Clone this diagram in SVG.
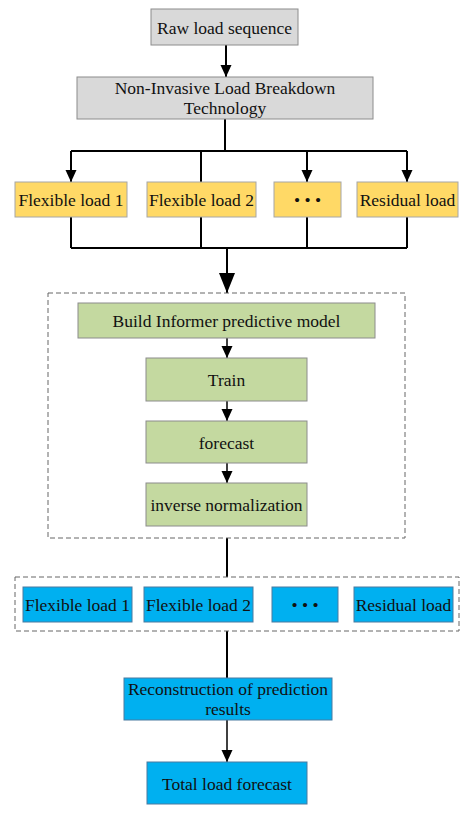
<svg xmlns="http://www.w3.org/2000/svg" width="474" height="818" viewBox="0 0 474 818">
<defs>
<style>
text{font-family:"Liberation Serif","Times New Roman",serif;font-size:17.5px;fill:#111;text-anchor:middle}
.gray{fill:#d9d9d9;stroke:#8c8c8c;stroke-width:1}
.yel{fill:#ffd966;stroke:#a6a6a6;stroke-width:1}
.grn{fill:#c4d9a0;stroke:#8c8c8c;stroke-width:1}
.blu{fill:#00b0f0;stroke:#4a7aa0;stroke-width:1}
.dash{fill:none;stroke:#666;stroke-width:1;stroke-dasharray:5,3}
.c{fill:none;stroke:#000;stroke-width:2}
.t{fill:none;stroke:#000;stroke-width:1.5}
</style>
<marker id="ah" markerUnits="userSpaceOnUse" viewBox="0 0 12 12" refX="12" refY="6" markerWidth="12" markerHeight="12" orient="auto"><path d="M0,0.5 L12,6 L0,11.5 Z" fill="#000"/></marker>
<marker id="ahb" markerUnits="userSpaceOnUse" viewBox="0 0 20 16" refX="20" refY="8" markerWidth="20" markerHeight="16" orient="auto"><path d="M0,0 L20,8 L0,16 Z" fill="#000"/></marker>
</defs>
<g id="connectors">
<path class="c" d="M226,45 V77" marker-end="url(#ah)"/>
<path class="c" d="M225,119 V151 M71,151 H407"/>
<path class="c" d="M71,151 V182" marker-end="url(#ah)"/>
<path class="c" d="M201,151 V182"/>
<path class="c" d="M307,151 V182" marker-end="url(#ah)"/>
<path class="c" d="M407,151 V182" marker-end="url(#ah)"/>
<path class="c" d="M71,217 V248 M201,217 V248 M307,217 V248 M407,217 V248 M71,248 H407"/>
<path class="c" d="M227,248 V293" marker-end="url(#ahb)"/>
<path class="t" d="M227,338 V358" marker-end="url(#ah)"/>
<path class="t" d="M227,401 V421" marker-end="url(#ah)"/>
<path class="t" d="M227,463 V483" marker-end="url(#ah)"/>
<path class="c" d="M227,538 V577"/>
<path class="c" d="M227,631 V678"/>
<path class="t" d="M227,720 V762" marker-end="url(#ah)"/>
</g>
<g id="raw"><rect class="gray" x="151" y="9" width="147" height="36"/><text x="224.5" y="33.5">Raw load sequence</text></g>
<g id="nilbt"><rect class="gray" x="77" y="77" width="296" height="42"/><text x="225" y="94">Non-Invasive Load Breakdown</text><text x="225" y="114">Technology</text></g>
<g id="y1"><rect class="yel" x="15" y="182" width="112" height="35"/><text x="71" y="206">Flexible load 1</text></g>
<g id="y2"><rect class="yel" x="147" y="182" width="109" height="35"/><text x="201.5" y="206">Flexible load 2</text></g>
<g id="y3"><rect class="yel" x="274" y="182" width="67" height="35"/><text x="307.5" y="206">• • •</text></g>
<g id="y4"><rect class="yel" x="357" y="182" width="101" height="35"/><text x="407.5" y="206">Residual load</text></g>
<g id="model-group"><rect class="dash" x="48" y="293" width="357" height="245"/></g>
<g id="build"><rect class="grn" x="78" y="303" width="297" height="35"/><text x="226.5" y="327">Build Informer predictive model</text></g>
<g id="train"><rect class="grn" x="146" y="358" width="161" height="43"/><text x="226.5" y="386">Train</text></g>
<g id="forecast"><rect class="grn" x="146" y="421" width="161" height="42"/><text x="226.5" y="449">forecast</text></g>
<g id="invnorm"><rect class="grn" x="146" y="483" width="161" height="43"/><text x="226.5" y="511">inverse normalization</text></g>
<g id="output-group"><rect class="dash" x="15" y="577" width="444" height="54"/></g>
<g id="b1"><rect class="blu" x="23" y="587" width="109" height="35"/><text x="77.5" y="611">Flexible load 1</text></g>
<g id="b2"><rect class="blu" x="144" y="587" width="109" height="35"/><text x="198.5" y="611">Flexible load 2</text></g>
<g id="b3"><rect class="blu" x="272" y="587" width="66" height="35"/><text x="305" y="611">• • •</text></g>
<g id="b4"><rect class="blu" x="354" y="587" width="99" height="35"/><text x="403.5" y="611">Residual load</text></g>
<g id="recon"><rect class="blu" x="124" y="678" width="208" height="42"/><text x="228" y="695">Reconstruction of prediction</text><text x="228" y="715">results</text></g>
<g id="total"><rect class="blu" x="147" y="762" width="160" height="42"/><text x="227" y="790">Total load forecast</text></g>
</svg>
